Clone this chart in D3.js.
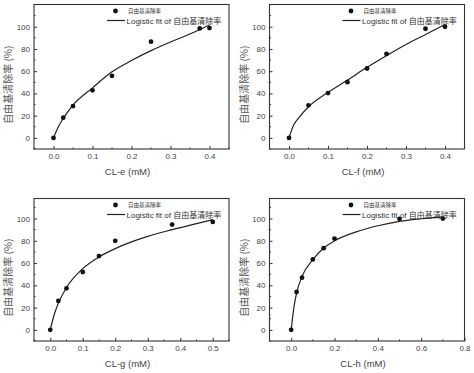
<!DOCTYPE html>
<html>
<head>
<meta charset="utf-8">
<script src="https://cdn.jsdelivr.net/npm/d3@7"></script>
<style>
  body { margin: 0; background: #fff; }
  svg { display: block; }
</style>
</head>
<body>
<div class="chart"></div>
<script>
// measured points (x in mM, y in %)
const e_x = [0, 0.025, 0.05, 0.1, 0.15, 0.25, 0.375, 0.4];
const e_y = [0, 18.2, 28.6, 42.8, 55.8, 86.6, 98.5, 98.8];
const f_x = [0, 0.05, 0.1, 0.15, 0.2, 0.25, 0.35, 0.4];
const f_y = [0, 29.3, 40.3, 50.1, 62.4, 75.5, 98.2, 100];
const g_x = [0, 0.025, 0.05, 0.1, 0.15, 0.2, 0.375, 0.5];
const g_y = [0, 26, 37.3, 52, 66.3, 80, 94.6, 97];
const h_x = [0, 0.025, 0.05, 0.1, 0.15, 0.2, 0.5, 0.7];
const h_y = [0, 34, 46.9, 63.3, 73.4, 82, 99.7, 100];

// fitted curves
const e_fit_x = [0, 0.0125, 0.025, 0.05, 0.1, 0.15, 0.2, 0.25, 0.3, 0.35, 0.4];
const e_fit_y = [0, 10, 17.5, 29.5, 45, 59.4, 69.6, 78.5, 86.3, 93.4, 101.5];
const f_fit_x = [0, 0.0125, 0.025, 0.05, 0.1, 0.15, 0.2, 0.25, 0.3, 0.35, 0.4];
const f_fit_y = [0, 12, 18, 28, 41, 52, 63.5, 74, 84, 93, 102];
const g_fit_x = [0, 0.0125, 0.025, 0.05, 0.1, 0.15, 0.2, 0.25, 0.3, 0.375, 0.45, 0.5];
const g_fit_y = [0, 14, 24, 38, 55, 65.5, 73, 79, 84, 90, 95.5, 99];
const h_fit_x = [0, 0.0125, 0.025, 0.05, 0.1, 0.15, 0.2, 0.3, 0.4, 0.5, 0.6, 0.7];
const h_fit_y = [0, 20, 33, 48, 63, 73.5, 80, 88, 93.5, 97.5, 99.8, 101.5];

const x_titles = ['CL-e (mM)', 'CL-f (mM)', 'CL-g (mM)', 'CL-h (mM)'];
const y_title = '自由基清除率 (%)';
const legend_dot = '自由基清除率';
const legend_line = 'Logistic fit of 自由基清除率';
const y_ticks = [0, 20, 40, 60, 80, 100];

const W = 474, H = 373;
const svg = d3.select('.chart').append('svg').attr('width', W).attr('height', H);

const panels = [
  { xs: e_x, ys: e_y, fx: e_fit_x, fy: e_fit_y, title: x_titles[0],
    box: [34, 4.5, 229, 149], xdom: [-0.05, 0.45], ydom: [-10, 120],
    xticks: [0, 0.1, 0.2, 0.3, 0.4], xminor: 0.05 },
  { xs: f_x, ys: f_y, fx: f_fit_x, fy: f_fit_y, title: x_titles[1],
    box: [269.5, 4.5, 464.5, 149], xdom: [-0.05, 0.45], ydom: [-10, 120],
    xticks: [0, 0.1, 0.2, 0.3, 0.4], xminor: 0.05 },
  { xs: g_x, ys: g_y, fx: g_fit_x, fy: g_fit_y, title: x_titles[2],
    box: [34, 198.5, 229, 341], xdom: [-0.05, 0.55], ydom: [-10, 118],
    xticks: [0, 0.1, 0.2, 0.3, 0.4, 0.5], xminor: 0.05 },
  { xs: h_x, ys: h_y, fx: h_fit_x, fy: h_fit_y, title: x_titles[3],
    box: [269.5, 198.5, 464.5, 341], xdom: [-0.1, 0.8], ydom: [-10, 118],
    xticks: [0, 0.2, 0.4, 0.6, 0.8], xminor: 0.1 }
];

panels.forEach(p => draw_panel(p));

function draw_panel(p) {
  const [x0, y0, x1, y1] = p.box;
  const x = d3.scaleLinear().domain(p.xdom).range([x0, x1]);
  const y = d3.scaleLinear().domain(p.ydom).range([y1, y0]);
  const g = svg.append('g');

  // minor ticks (inward)
  const xminor = d3.range(Math.ceil(p.xdom[0] / p.xminor), Math.floor(p.xdom[1] / p.xminor) + 1)
    .map(k => +(k * p.xminor).toFixed(3))
    .filter(v => !p.xticks.some(t => Math.abs(t - v) < 1e-6));
  const yminor = d3.range(-10, p.ydom[1], 10).filter(v => v % 20 !== 0);

  const x_axis = d3.axisBottom(x).tickValues(p.xticks).tickSizeInner(-3).tickSizeOuter(0)
    .tickPadding(4).tickFormat(d3.format('.1f'));
  const y_axis = d3.axisLeft(y).tickValues(y_ticks).tickSizeInner(-3).tickSizeOuter(0)
    .tickPadding(4).tickFormat(d3.format('d'));

  const xg = g.append('g').attr('transform', `translate(0,${y1})`).call(x_axis);
  const yg = g.append('g').attr('transform', `translate(${x0},0)`).call(y_axis);
  [xg, yg].forEach(a => {
    a.select('.domain').remove();
    a.selectAll('line').attr('stroke', '#333');
    a.selectAll('text').attr('fill', '#444').style('font-family', 'Liberation Sans, Arial, sans-serif').style('font-size', '8px');
  });

  g.selectAll('.xminor').data(xminor).join('line')
    .attr('x1', d => x(d)).attr('x2', d => x(d)).attr('y1', y1).attr('y2', y1 - 1.5)
    .attr('stroke', '#333');
  g.selectAll('.yminor').data(yminor).join('line')
    .attr('x1', x0).attr('x2', x0 + 1.5).attr('y1', d => y(d)).attr('y2', d => y(d))
    .attr('stroke', '#333');

  // frame
  g.append('rect').attr('x', x0).attr('y', y0).attr('width', x1 - x0).attr('height', y1 - y0)
    .attr('fill', 'none').attr('stroke', '#333').attr('stroke-width', 1.1);

  // fit curve
  const fit = p.fx.map((v, i) => [v, p.fy[i]]);
  const line = d3.line().x(d => x(d[0])).y(d => y(d[1])).curve(d3.curveMonotoneX);
  g.append('path').attr('d', line(fit)).attr('fill', 'none').attr('stroke', '#222').attr('stroke-width', 1.2);

  // points
  const pts = p.xs.map((v, i) => [v, p.ys[i]]);
  g.selectAll('circle').data(pts).join('circle')
    .attr('cx', d => x(d[0])).attr('cy', d => y(d[1])).attr('r', 2.4).attr('fill', '#111');

  // legend
  g.append('circle').attr('cx', x0 + 81.5).attr('cy', y0 + 6.5).attr('r', 2.4).attr('fill', '#111');
  g.append('text').attr('x', x0 + 94).attr('y', y0 + 8.5).text(legend_dot)
    .style('font-family', 'Noto Sans CJK SC, sans-serif').style('font-size', '5.5px').attr('fill', '#333');
  g.append('line').attr('x1', x0 + 73).attr('x2', x0 + 91).attr('y1', y0 + 16).attr('y2', y0 + 16)
    .attr('stroke', '#222').attr('stroke-width', 1.2);
  g.append('text').attr('x', x0 + 92.5).attr('y', y0 + 19).text(legend_line)
    .style('font-family', 'Liberation Sans, Noto Sans CJK SC, sans-serif').style('font-size', '8px').attr('fill', '#333');

  // axis titles
  g.append('text').attr('x', (x0 + x1) / 2 - 4).attr('y', y1 + 26).attr('text-anchor', 'middle')
    .text(p.title).style('font-family', 'Liberation Sans, Arial, sans-serif').style('font-size', '9.5px').attr('fill', '#444');
  const cy = (y0 + y1) / 2 + 8;
  g.append('text').attr('transform', `translate(${x0 - 22},${cy}) rotate(-90)`).attr('text-anchor', 'middle')
    .text(y_title).style('font-family', 'Noto Sans CJK SC, sans-serif').style('font-size', '10px').attr('fill', '#555');
}
</script>
</body>
</html>
